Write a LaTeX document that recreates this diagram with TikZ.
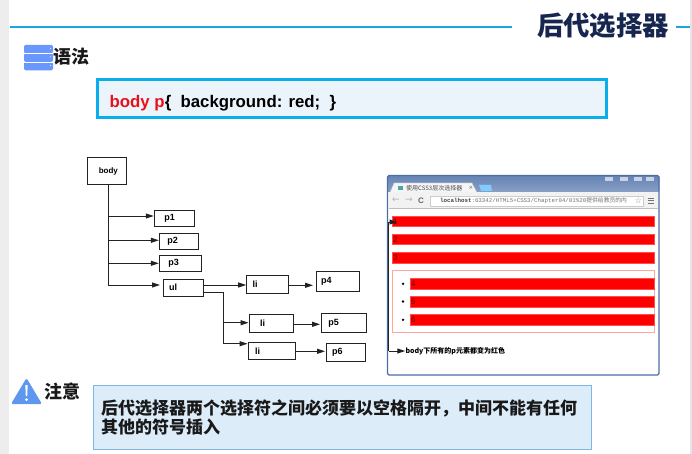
\documentclass[tikz,border=0pt]{standalone}
\usepackage{fontspec}
\setmainfont{Liberation Sans}
\newfontfamily\cjk{Noto Sans CJK SC}
\newfontfamily\dejavu{DejaVu Sans}
\newfontfamily\lmono{Liberation Mono}
\usetikzlibrary{arrows.meta}
\definecolor{linkblue}{HTML}{1FA3DF}
\definecolor{framecyan}{HTML}{0AAEEA}
\definecolor{codefill}{HTML}{EBF4FB}
\definecolor{titleink}{HTML}{17264F}
\definecolor{iconblue}{HTML}{6A97FB}
\definecolor{warnblue}{HTML}{5E98EE}
\definecolor{notefill}{HTML}{DCECF9}
\definecolor{noteline}{HTML}{7FB6E3}
\definecolor{winframe}{HTML}{4A6DA7}
\definecolor{treeink}{HTML}{222222}
\newcommand{\fs}[1]{\fontsize{#1}{#1}\selectfont}
\tikzset{
  treebox/.style={draw=treeink,line width=1pt,inner sep=0pt,align=left,font=\fs{9}\bfseries},
  tree/.style={draw=treeink,line width=1pt},
  treearrow/.style={tree,-{Stealth[length=8pt,width=5pt,inset=0pt]}},
  redbar/.style={fill=red,draw=red!70!white,line width=0.6pt},
  barnum/.style={font=\fs{8},text=red!45!black,inner sep=0pt,anchor=west},
  cjklabel/.style={font=\cjk\bfseries\fs{18},text=black!90,inner sep=0pt}
}
\newcommand{\tb}[7]{%
  \pgfmathsetmacro{\tbw}{#4-#2}\pgfmathsetmacro{\tbh}{#5-#3}%
  \pgfmathsetmacro{\tbx}{(#4+#2)/2}\pgfmathsetmacro{\tby}{(#5+#3)/2}%
  \node[treebox,text width=\tbw pt,minimum height=\tbh pt] (#1) at (\tbx,\tby) {\hspace*{#6pt}\raisebox{-2pt}{#7}};}
\begin{document}
\begin{tikzpicture}[x=1pt,y=-1pt]
\useasboundingbox (0,0) rectangle (692,454);
\fill[white] (0,0) rectangle (692,454);
% page edges
\fill[black!7] (0,0) rectangle (9,454);
\fill[black!10] (690,0) rectangle (692,454);
% heading
\draw[linkblue,line width=1.2pt] (10,27) -- (512,27);
\draw[linkblue,line width=1.2pt] (676,27) -- (690,27);
\node[font=\cjk\bfseries\fs{26.4},text=titleink,inner sep=0pt] (title) at (603,26) {后代选择器};
% syntax icon
\foreach \yy in {45,53.5,62}{\fill[iconblue,rounded corners=1.5pt] (24,\yy) rectangle (53,\yy+8.5);
  \fill[white] (50.5,\yy+3.5) circle (0.5);}
\draw[white,line width=0.4pt] (24,53.5) -- (53,53.5) (24,62) -- (53,62);
\node[cjklabel,anchor=west] (syntax) at (53,57) {语法};
% code box
\node[draw=framecyan,fill=codefill,line width=3.6pt,minimum width=509pt,minimum height=38pt,inner sep=0pt] (code) at (352,98.5) {};
\node[font=\bfseries\fs{16.8},anchor=west,inner sep=0pt] (codetext) at (109.5,103) {\textcolor[HTML]{E8101A}{body p}\{\ \ background: red;\ \ \}};
% tree
\tb{body}{87.3}{158}{126.7}{184.7}{11.5}{\fs{8}body}
\tb{p1}{154.3}{210.7}{194.3}{226.3}{10}{p1}
\tb{p2}{159.3}{233.3}{198.7}{249.3}{8}{p2}
\tb{p3}{159.3}{255.3}{201.3}{271.7}{9}{p3}
\tb{ul}{163}{279.3}{203}{296}{6}{ul}
\tb{li1}{246.7}{275}{288.7}{293.7}{6}{li}
\tb{p4}{316}{271.7}{359.3}{291.3}{5}{p4}
\tb{li2}{249}{314.7}{293}{332.3}{11}{li}
\tb{p5}{321.3}{313.7}{366.3}{332.7}{7}{p5}
\tb{li3}{248}{342.7}{295}{359}{7}{li}
\tb{p6}{326}{343.7}{365.3}{361.7}{6}{p6}
\coordinate (jp1) at (108,216);
\coordinate (jp2) at (108,240.3);
\coordinate (jp3) at (108,263.3);
\coordinate (jul) at (108,285);
\coordinate (ulend) at (160,285);
\draw[tree] (body.south -| jul) -- (jul);
\draw[treearrow] (jp1) -- (jp1 -| p1.west);
\draw[treearrow] (jp2) -- (jp2 -| p2.west);
\draw[treearrow] (jp3) -- (jp3 -| p3.west);
\draw[treearrow] (jul) -- (ulend);
\coordinate (uli1) at (203,285);
\draw[treearrow] (uli1) -- (uli1 -| li1.west);
\coordinate (lp4) at (288.7,285.3);
\coordinate (lp4e) at (313,285.3);
\draw[treearrow] (lp4) -- (lp4e);
\coordinate (ulb) at (203,292.7);
\coordinate (uld) at (223,292.7);
\coordinate (jli2) at (223,322.7);
\coordinate (jli3) at (223,343.7);
\draw[tree] (ulb) -- (uld) -- (jli3);
\draw[treearrow] (jli2) -- (jli2 -| li2.west);
\draw[treearrow] (jli3) -- (jli3 -| li3.west);
\coordinate (lp5) at (293,324.3);
\coordinate (lp5e) at (320,324.3);
\draw[treearrow] (lp5) -- (lp5e);
\coordinate (lp6) at (295,351.3);
\coordinate (lp6e) at (325,351.3);
\draw[treearrow] (lp6) -- (lp6e);
% browser window
\fill[white] (387.5,175.5) rectangle (659,375);
\fill[rounded corners=1.5pt,top color=winframe!85,bottom color=winframe!65!white] (387.5,175.5) rectangle (659,192);
\filldraw[draw=black!25,fill=black!4,line width=0.3pt] (390,192.5) -- (394,183) -- (472,183) -- (477,192.5) -- cycle;
\fill[black!5] (388.5,192) rectangle (658,208);
\draw[black!25,line width=0.4pt] (388.5,208) -- (658,208);
\fill[blue!40!cyan!50] (479,185) -- (491,185) -- (492,191) -- (481,191) -- cycle;
\fill[green!50!blue!70] (398,186) rectangle (403,190.5);
\node[font=\cjk\fs{6},text=black!70,inner sep=0pt,anchor=west] (tabtitle) at (406,187.8) {使用CSS3层次选择器};
\node[font=\dejavu\fs{5.5},text=black!60,inner sep=0pt] (tabx) at (471,188) {×};
\node[font=\dejavu\fs{9},text=black!30,inner sep=0pt] (back) at (396,200.5) {←};
\node[font=\dejavu\fs{9},text=black!30,inner sep=0pt] (fwd) at (409,200.5) {→};
\node[font=\bfseries\fs{8},text=black!60,inner sep=0pt] (reload) at (421,200.5) {C};
\filldraw[draw=black!20,fill=white,line width=0.4pt] (430,196) rectangle (643,206);
\node[font=\fs{5.8},text=black!55,inner sep=0pt,anchor=west] (url) at (440,200.8) {{\lmono\bfseries\color{black!75}localhost}{\lmono:63342/HTML5+CSS3/Chapter04/01\%20}{\cjk 提供给教员的内}};
\node[font=\dejavu\fs{8},text=black!45,inner sep=0pt] (star) at (638.5,200.5) {☆};
\draw[black!55,line width=0.7pt] (648,198) -- (654,198) (648,200.5) -- (654,200.5) (648,203) -- (654,203);
\foreach \xx in {609,624,638,650}{\fill[white!70!winframe] (\xx-4,177) rectangle (\xx+4,181.5);}
\draw[winframe,line width=1.2pt,rounded corners=1.5pt] (387.5,175.5) rectangle (659,375);
% page content
\foreach \yy/\nn in {216/1,234/2,252.3/3}{
  \filldraw[redbar] (392.3,\yy) rectangle (654,\yy+10.7);
  \node[barnum] at (393,\yy+5.4) {\nn};}
\draw[red!35!white,line width=0.7pt] (392,270.3) rectangle (654.3,332.7);
\foreach \yy/\nn in {278.3/4,296/5,314.3/6}{
  \filldraw[redbar] (410,\yy) rectangle (654,\yy+11);
  \fill[black] (403,\yy+5.5) circle (1.3);
  \node[barnum] at (411,\yy+5.5) {\nn};}
% callout
\coordinate (noteline) at (388.5,222);
\coordinate (notecorner) at (388.5,351);
\coordinate (notetip) at (397.5,222);
\node[font=\cjk\bfseries\fs{7},inner sep=0pt,anchor=west] (bodynote) at (405.3,351) {body下所有的p元素都变为红色};
\draw[tree] (noteline) -- (notecorner);
\draw[treearrow] (noteline) -- (notetip);
\draw[treearrow] (notecorner) -- (bodynote.west);
% warning
\fill[warnblue,rounded corners=1.5pt] (26.5,378) -- (42,404) -- (11,404) -- cycle;
\fill[white] (25.3,385) -- (27.7,385) -- (27.2,396) -- (25.8,396) -- cycle;
\fill[white] (26.5,399.5) circle (1.5);
\node[cjklabel,anchor=west] (notice) at (44,391) {注意};
% note box
\node[draw=noteline,fill=notefill,line width=1pt,minimum width=498pt,minimum height=64pt,inner sep=0pt] (note) at (342,417) {};
\node[font=\cjk\bfseries\fs{17},text=black!90,inner sep=0pt,anchor=west] (line1) at (101,408) {后代选择器两个选择符之间必须要以空格隔开，中间不能有任何};
\node[font=\cjk\bfseries\fs{17},text=black!90,inner sep=0pt,anchor=west] (line2) at (101,427) {其他的符号插入};
\end{tikzpicture}
\end{document}
